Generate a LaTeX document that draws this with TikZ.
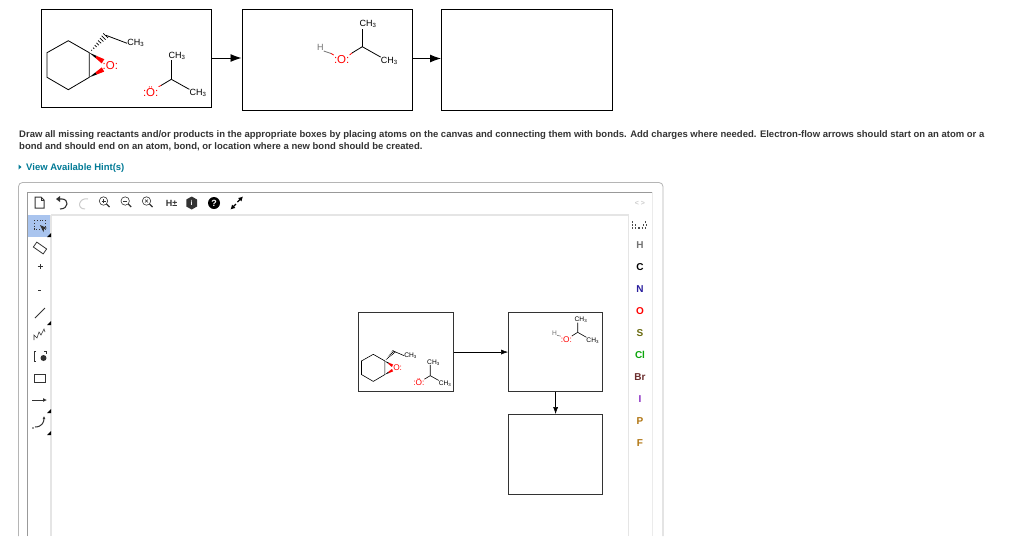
\documentclass[tikz,border=0pt]{standalone}
\usepackage{fontspec}
\setmainfont{Liberation Sans}
\usetikzlibrary{arrows.meta, calc}
\definecolor{hinttext}{HTML}{007A96}
\definecolor{panelgray}{HTML}{B5B5B5}
\definecolor{framegray}{HTML}{999999}
\definecolor{iconcolor}{HTML}{333333}
\definecolor{selectblue}{HTML}{A9C4EE}
\tikzset{
	answerbox/.style = {draw = black, line width = 1.2pt, inner sep = 0pt, anchor = north west},
	smallbox/.style  = {draw = black!80, line width = 0.8pt, inner sep = 0pt, anchor = north west},
	bondline/.style  = {line width = 0.8pt},
	atomtext/.style  = {inner sep = 0pt, font = \fontsize{9}{9}\selectfont},
	oxygentext/.style = {inner sep = 0pt, text = red, font = \fontsize{11.5}{11.5}\selectfont},
	prompttext/.style = {inner sep = 0pt, anchor = west, text = iconcolor, font = \fontsize{9.5}{9.5}\bfseries\selectfont},
	elemtext/.style  = {inner sep = 0pt, font = \fontsize{10}{10}\bfseries\selectfont},
	toolicon/.style  = {iconcolor, line width = 0.8pt},
	cornermark/.style = {fill = black}
}
\newcommand{\chthree}{CH\textsubscript{3}}
% epoxide on the ring, and the alkoxide beside it
\newcommand{\epoxidemol}{
	\coordinate (ringa) at (68.3, 40.7);
	\coordinate (ringb) at (89.3, 52.7);
	\coordinate (ringc) at (89.3, 77.3);
	\coordinate (ringd) at (68.3, 89.7);
	\coordinate (ringe) at (47, 77.3);
	\coordinate (ringf) at (47, 52.7);
	\coordinate (ethylc) at (106, 35.3);
	\node[atomtext] (ethylme) at (135.7, 43.3) {\chthree};
	\node[oxygentext] (epoxo) at (110.3, 65.5) {:O:};
	\draw[bondline] (ringa) -- (ringb) -- (ringc) -- (ringd) -- (ringe) -- (ringf) -- (ringa);
	\draw[bondline] (ethylc) -- (ethylme.west);
	\foreach \t in {0.14, 0.26, ..., 1.0} {
		\draw[line width = 0.7pt] ($(ringb)!\t!(ethylc) + (\t*2.4, \t*2.3)$) -- ($(ringb)!\t!(ethylc) - (\t*2.4, \t*2.3)$);
	}
	\fill[black] (ringb) -- (95.5, 58) -- (96.8, 56) -- cycle;
	\fill[red] (95.5, 58) -- (101.7, 63.4) -- (104.3, 59.2) -- (96.8, 56) -- cycle;
	\fill[black] (ringc) -- (96.8, 74.5) -- (95.5, 72.3) -- cycle;
	\fill[red] (96.8, 74.5) -- (104.2, 71.6) -- (101.8, 67.4) -- (95.5, 72.3) -- cycle;
	\coordinate (propc) at (171.3, 79.3);
	\node[atomtext] (propme) at (177, 56) {\chthree};
	\node[atomtext] (propmf) at (198, 93.3) {\chthree};
	\node[oxygentext] (propo) at (150.7, 91.7) {:Ö:};
	\draw[bondline] (propc) -- (171.3, 60);
	\draw[bondline] (propc) -- (propmf.north west);
	\draw[bondline] (propc) -- ($(propc)!0.5!(propo)$);
	\draw[bondline, red] ($(propc)!0.5!(propo)$) -- (propo.north east);
}
% the alcohol in the middle box
\newcommand{\alcoholmol}{
	\coordinate (alcc) at (362.3, 46.7);
	\node[atomtext] (alcma) at (368, 24) {\chthree};
	\node[atomtext] (alcmb) at (389.3, 61) {\chthree};
	\node[oxygentext] (alco) at (341.7, 59.3) {:O:};
	\node[atomtext, text = black!55] (alch) at (320.3, 47.7) {H};
	\draw[bondline] (alcc) -- (362.3, 29);
	\draw[bondline] (alcc) -- (alcmb.north west);
	\draw[bondline] (alcc) -- ($(alcc)!0.5!(alco)$);
	\draw[bondline, red] ($(alcc)!0.5!(alco)$) -- (alco.north east);
	\draw[bondline, black!55] (alch.south east) -- ($(alch)!0.5!(alco)$);
	\draw[bondline, red] ($(alch)!0.5!(alco)$) -- (alco.north west);
}

\begin{document}
\begin{tikzpicture}[x = 1pt, y = -1pt]
	\useasboundingbox (0, 0) rectangle (1024, 536);
	\fill[white] (0, 0) rectangle (1024, 536);

	% boxes of the question
	\node[answerbox, minimum width = 170.5pt, minimum height = 98pt] (startbox) at (40.5, 9) {};
	\node[answerbox, minimum width = 170.5pt, minimum height = 101pt] (middlebox) at (241.5, 8.5) {};
	\node[answerbox, minimum width = 170.5pt, minimum height = 101pt] (lastbox) at (441, 9) {};
	\draw[-{Latex[length = 11pt, width = 8pt]}, line width = 0.9pt] (startbox.east |- 0, 58) -- (middlebox.west |- 0, 58);
	\draw[-{Latex[length = 11pt, width = 8pt]}, line width = 0.9pt] (middlebox.east |- 0, 58.5) -- (lastbox.west |- 0, 58.5);
	\epoxidemol
	\alcoholmol

	% prompt
	\node[prompttext] (promptone) at (19, 134.7) {Draw all missing reactants and/or products in the appropriate boxes by placing atoms on the canvas and connecting them with bonds. Add charges where needed. Electron-flow arrows should start on an atom or a};
	\node[prompttext] (prompttwo) at (19, 146.7) {bond and should end on an atom, bond, or location where a new bond should be created.};
	\fill[hinttext] (18.5, 164.5) -- (21.5, 167) -- (18.5, 169.5) -- cycle;
	\node[prompttext, text = hinttext] (hintlink) at (26, 167.7) {View Available Hint(s)};

	% panel and its bars
	\fill[selectblue] (28, 215) rectangle (51, 237);
	\draw[panelgray, line width = 0.8pt, rounded corners = 4pt] (18.5, 536) -- (18.5, 182.5) -- (663, 182.5) -- (663, 536);
	\draw[framegray, line width = 1pt] (27.5, 536) -- (27.5, 192) -- (652, 192);
	\draw[black!10, line width = 1.5pt] (51, 215) -- (628.5, 215);
	\draw[black!10, line width = 1.5pt] (51, 215) -- (51, 536);
	\draw[black!10, line width = 1.5pt] (628.5, 215) -- (628.5, 536);
	\draw[black!8, line width = 1pt] (652, 192) -- (652, 536);

	% top bar
	\draw[toolicon, line width = 1pt] (35, 197) -- (41, 197) -- (44, 200) -- (44, 208) -- (35, 208) -- cycle;
	\draw[toolicon] (41, 197) -- (41, 200) -- (44, 200);
	\draw[toolicon, line width = 1.1pt] (58, 199) -- (62, 199) .. controls (69, 199) and (69, 209) .. (60, 209);
	\fill[iconcolor] (56, 199) -- (60, 196) -- (60, 202) -- cycle;
	\draw[black!20, line width = 1pt] (88, 199) .. controls (79, 197) and (76, 209) .. (85, 209);
	\foreach \i/\x in {zin/105, zout/126.7, zoff/148} {
		\draw[toolicon, line width = 0.6pt] (\x-1.5, 201) circle (4.2pt);
		\draw[toolicon, line width = 1.2pt] (\x+1.5, 204) -- (\x+4.5, 207);
	}
	\draw[toolicon, line width = 0.6pt] (101.5, 201) -- (105.5, 201) (103.5, 199) -- (103.5, 203);
	\draw[toolicon, line width = 0.6pt] (123.2, 201) -- (127.2, 201);
	\draw[toolicon, line width = 0.6pt] (145, 199.5) -- (148, 202.5) (145, 202.5) -- (148, 199.5);
	\node[inner sep = 0pt, text = iconcolor, font = \fontsize{9}{9}\bfseries\selectfont] (hplus) at (171.5, 203) {H±};
	\fill[iconcolor] (191.7, 196.5) -- (197, 199.5) -- (197, 206.5) -- (191.7, 209.5) -- (186.3, 206.5) -- (186.3, 199.5) -- cycle;
	\node[inner sep = 0pt, text = white, font = \fontsize{7}{7}\bfseries\selectfont] (infoi) at (191.7, 203) {i};
	\node[circle, fill = black, inner sep = 0pt, minimum size = 12pt, text = white, font = \fontsize{9}{9}\bfseries\selectfont] (helpq) at (214, 203) {?};
	\draw[black, line width = 1.4pt, -{Latex[length = 4.5pt, width = 5pt]}] (236, 204) -- (230.5, 209.5);
	\draw[black, line width = 1.4pt, -{Latex[length = 4.5pt, width = 5pt]}] (237.5, 202) -- (243, 196.5);

	% left bar
	\draw[toolicon, dotted, line width = 0.7pt] (34, 220) rectangle (45, 229);
	\fill[iconcolor] (40, 225) -- (47, 228) -- (44, 229) -- (43.5, 232) -- cycle;
	\draw[toolicon, rotate around = {-35:(40, 248)}] (34, 245) rectangle (46, 251);
	\draw[toolicon, line width = 1pt] (37.5, 266.7) -- (42.5, 266.7) (40, 264.2) -- (40, 269.2);
	\draw[toolicon, line width = 1pt] (38, 290) -- (41, 290);
	\draw[toolicon] (35, 318) -- (45, 308);
	\draw[toolicon, line width = 0.6pt] (34, 340) -- (34, 335) -- (37, 338) -- (39, 332) -- (41, 335) -- (44, 329) -- (45, 332);
	\draw[toolicon] (36, 351) -- (34, 351) -- (34, 361) -- (36, 361);
	\draw[toolicon] (44, 351) -- (46, 351) -- (46, 354);
	\fill[iconcolor] (43.5, 358) circle (3pt);
	\draw[toolicon, line width = 1pt] (34.5, 374) rectangle (45, 382);
	\draw[toolicon, -{Latex[length = 4pt, width = 4pt]}] (32, 400) -- (47, 400);
	\draw[toolicon, line width = 1pt, -{Latex[length = 3pt, width = 3pt]}] (35, 427) .. controls (42, 427) and (44, 422) .. (44, 416);
	\fill[iconcolor] (33, 428) circle (0.8pt);
	\foreach \y in {237, 325, 413, 435} {
		\fill[cornermark] (51, \y) -- (51, \y-4) -- (47, \y) -- cycle;
	}

	% right bar
	\node[inner sep = 0pt, text = black!20, font = \fontsize{7}{7}\bfseries\selectfont] (pagearrows) at (640, 203) {< >};
	\draw[black!70, dotted, line width = 1.2pt] (632, 228) -- (647, 228);
	\draw[black!70, dotted, line width = 1.2pt] (632, 225) -- (636, 225) (643, 225) -- (647, 225);
	\draw[black!70, dotted, line width = 1.2pt] (632, 222) -- (634, 222) (645, 222) -- (647, 222);
	\node[elemtext, text = black!55] (elemh) at (640, 245) {H};
	\node[elemtext, text = black] (elemc) at (640, 267) {C};
	\node[elemtext, text = {rgb,255:red,43;green,31;blue,158}] (elemn) at (640, 289) {N};
	\node[elemtext, text = red] (elemo) at (640, 311) {O};
	\node[elemtext, text = {rgb,255:red,107;green,107;blue,16}] (elems) at (640, 333) {S};
	\node[elemtext, text = {rgb,255:red,10;green,165;blue,10}] (elemcl) at (640, 355) {Cl};
	\node[elemtext, text = {rgb,255:red,107;green,45;blue,45}] (elembr) at (640, 377) {Br};
	\node[elemtext, text = {rgb,255:red,138;green,43;blue,194}] (elemi) at (640, 399) {I};
	\node[elemtext, text = {rgb,255:red,176;green,116;blue,15}] (elemp) at (640, 421) {P};
	\node[elemtext, text = {rgb,255:red,176;green,116;blue,15}] (elemf) at (640, 443) {F};

	% boxes on the canvas
	\node[smallbox, minimum width = 94.4pt, minimum height = 78.7pt] (canvasa) at (358.3, 312.3) {};
	\node[smallbox, minimum width = 94.4pt, minimum height = 78.7pt] (canvasb) at (508, 312.3) {};
	\node[smallbox, minimum width = 94.4pt, minimum height = 80pt] (canvasc) at (508, 414) {};
	\draw[-{Latex[length = 7pt, width = 5pt]}, line width = 0.5pt] (canvasa) -- (canvasb);
	\draw[-{Latex[length = 7pt, width = 5pt]}, line width = 0.5pt] (canvasb) -- (canvasc);
	\begin{scope}[shift = {(335.5, 331.8)}, scale = 0.553, transform shape, bondline/.style = {line width = 0.6pt}, atomtext/.append style = {font = \fontsize{12}{12}\selectfont}, oxygentext/.append style = {font = \fontsize{15}{15}\selectfont}]
		\epoxidemol
	\end{scope}
	\begin{scope}[shift = {(377.35, 306.5)}, scale = 0.553, transform shape, bondline/.style = {line width = 0.6pt}, atomtext/.append style = {font = \fontsize{12}{12}\selectfont}, oxygentext/.append style = {font = \fontsize{15}{15}\selectfont}]
		\alcoholmol
	\end{scope}
\end{tikzpicture}
\end{document}
